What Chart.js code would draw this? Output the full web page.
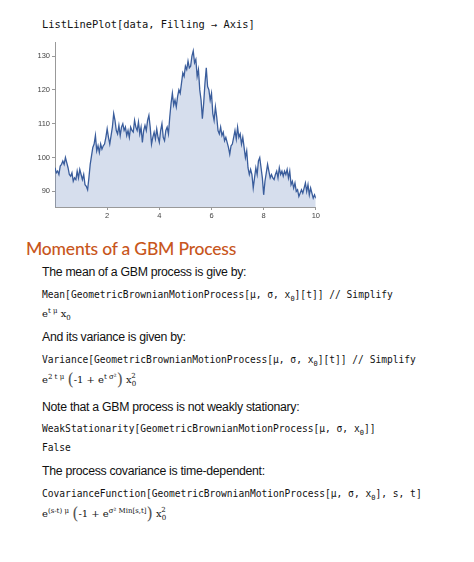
<!DOCTYPE html><html><head><meta charset="utf-8">
<script src="https://cdn.jsdelivr.net/npm/chart.js@4"></script>
<style>
body{margin:0;width:474px;height:562px;background:#fff;position:relative;overflow:hidden;font-family:"Liberation Sans",Arial,sans-serif;color:#111}
.l{position:absolute;left:42px;white-space:nowrap;line-height:1}
.t{font-size:12.3px;letter-spacing:-0.3px}
.c{font-family:"DejaVu Sans Mono",monospace;font-size:9.6px;color:#111}
.m{font-family:"DejaVu Serif",serif;font-size:10px}
h2{position:absolute;left:26px;top:238px;margin:0;font-family:"Lato","Open Sans",sans-serif;font-weight:500;font-size:17.5px;color:#c8561c;letter-spacing:-0.2px}
sup,sub{font-size:7px}
.p{font-size:16px;font-weight:100;color:#555;vertical-align:-2px}
</style></head><body>
<div class="l c" style="left:42px;top:19px;font-size:10.4px">ListLinePlot[data, Filling → Axis]</div>
<canvas id="ch" style="position:absolute;left:20px;top:36px"></canvas>
<h2>Moments of a GBM Process</h2>
<div class="l t" style="top:266px">The mean of a GBM process is give by:</div>
<div class="l c" style="top:290px">Mean[GeometricBrownianMotionProcess[μ, σ, x<sub>0</sub>][t]] // Simplify</div>
<div class="l m" style="top:308px">e<sup>t μ</sup> x<sub>0</sub></div>
<div class="l t" style="top:331px">And its variance is given by:</div>
<div class="l c" style="top:355px">Variance[GeometricBrownianMotionProcess[μ, σ, x<sub>0</sub>][t]] // Simplify</div>
<div class="l m" style="top:372px">e<sup>2 t μ</sup> <span class="p">(</span>-1 + e<sup>t σ²</sup><span class="p">)</span> x<sub>0</sub><sup style="margin-left:-5px;vertical-align:5px">2</sup></div>
<div class="l t" style="top:401px">Note that a GBM process is not weakly stationary:</div>
<div class="l c" style="top:424px">WeakStationarity[GeometricBrownianMotionProcess[μ, σ, x<sub>0</sub>]]</div>
<div class="l c" style="top:443px">False</div>
<div class="l t" style="top:465px">The process covariance is time-dependent:</div>
<div class="l c" style="top:489px">CovarianceFunction[GeometricBrownianMotionProcess[μ, σ, x<sub>0</sub>], s, t]</div>
<div class="l m" style="top:506px">e<sup>(s-t) μ</sup> <span class="p">(</span>-1 + e<sup>σ² Min[s,t]</sup><span class="p">)</span> x<sub>0</sub><sup style="margin-left:-5px;vertical-align:5px">2</sup></div>
<script>
const values=[97,95.5,96,95,97.5,98,99,98,100,98.5,97,95,94.5,95.5,93,94,93.5,96,94,96.5,95,93.5,95,92,91.5,90.5,94,98,100.5,103,104,106.5,102,103.5,101.5,104,102.5,103.5,104,106,108.5,106,104,106.5,109,113,111,108,107,109.5,106.5,109,110,108,109,106.5,108,106,109,108,107.5,111,109,108,110.5,107,109,104.5,108,109.5,108,111,112.5,109,104,106,107.5,105.5,108.5,106,104.5,108,110,106,105,108,109,107,112,116,119,115.5,117,115,118,120,119,122,125,124,127,126,128.5,126.5,127,130,131.5,128,129,124,126,120,117,111.5,116,122,126.5,121,120,117,119,113,111,115,112,108,107,109,106.5,107.5,105,106,104.5,103,101,103.5,104,106,108,105.5,109,106,107,104,106,103,100,102,97,95,96.5,95,91,94,97,95,99,100,97,94,89,93,95.5,98,96,94,95,94,93.5,95,96,94,97,95,96,94.5,96,95,96.5,94,96,92,93,91,92.5,90,90.5,88.5,89.5,90.5,89.5,91,92.5,90,92,89,91,89.5,88,89,88];
const xStep=0.05;
const xTicks=[2,4,6,8,10];
const yTicks=[90,100,110,120,130];
const pts=values.map((v,i)=>({x:i*xStep,y:v}));
const cv=document.getElementById('ch');cv.width=301;cv.height=191;cv.style.width='301px';cv.style.height='191px';
new Chart(cv,{type:'line',data:{datasets:[{data:pts,borderColor:'#3a5d9c',borderWidth:1.3,pointRadius:0,fill:'start',backgroundColor:'rgba(120,145,195,0.3)',tension:0}]},
options:{responsive:false,animation:false,plugins:{legend:{display:false},tooltip:{enabled:false}},layout:{padding:{top:2,right:0}},
scales:{x:{type:'linear',min:0,max:10,afterBuildTicks:a=>{a.ticks=xTicks.map(v=>({value:v}))},afterFit:a=>{a.height=20},
grid:{drawOnChartArea:false,tickLength:3,color:'#999'},border:{color:'#999'},ticks:{font:{size:7.5,family:'Liberation Sans'},color:'#444',padding:1}},
y:{min:85.4,max:134,afterBuildTicks:a=>{a.ticks=yTicks.map(v=>({value:v}))},afterFit:a=>{a.width=35},
grid:{drawOnChartArea:false,tickLength:3,color:'#999'},border:{color:'#999'},ticks:{font:{size:7.5,family:'Liberation Sans'},color:'#444',padding:2}}}}});
</script></body></html>
